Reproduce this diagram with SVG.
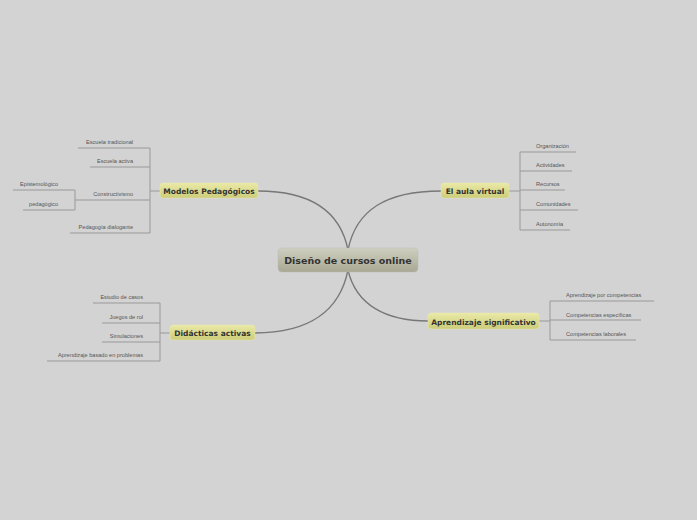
<svg xmlns="http://www.w3.org/2000/svg" width="697" height="520" viewBox="0 0 697 520">
<defs>
<linearGradient id="gc" x1="0" y1="0" x2="0" y2="1"><stop offset="0" stop-color="#cfcfc0"/><stop offset="1" stop-color="#a8a894"/></linearGradient>
<linearGradient id="gm" x1="0" y1="0" x2="0" y2="1"><stop offset="0" stop-color="#eaeaa8"/><stop offset="1" stop-color="#cccc7a"/></linearGradient>
</defs>
<style>
.leaf{font-family:"Liberation Sans",Arial,sans-serif;font-size:5.6px;fill:#555}
.mt{font-family:"DejaVu Sans",sans-serif;font-size:7.5px;font-weight:bold;fill:#333;text-anchor:middle}
.ln{stroke:#999;stroke-width:1;fill:none}
.cv{stroke:#777;stroke-width:1.3;fill:none}
.mb{fill:url(#gm);stroke:#e8e8b0;stroke-width:0.5}
</style>
<rect width="697" height="520" fill="#d3d3d3"/>
<g id="connectors">
<path class="cv" d="M348,250 C340,210 310,191 258,191"/>
<path class="cv" d="M348,250 C356,210 386,191 441,191"/>
<path class="cv" d="M348,270 C340,310 310,333 255,333"/>
<path class="cv" d="M348,270 C356,305 386,321 428,321"/>
<path class="ln" d="M150,148V233M160,191H150M78,148H150M90,167H150M85,200H150M70,233H150M75,190V210M85,200H75M13,190H75M23,210H75"/>
<path class="ln" d="M520,152V230M509,191H520M520,152H576M520,171H572M520,190H565M520,210H578M520,230H570"/>
<path class="ln" d="M550,301V340M539,321H550M550,301H654M550,320H641M550,340H636"/>
<path class="ln" d="M160,303V361M170,333H160M93,303H160M102,323H160M102,342H160M47,361H160"/>
</g>
<g id="center"><rect x="278" y="248" width="140" height="24" rx="4" fill="url(#gc)" stroke="#bbb" stroke-width="0.5"/><text x="348" y="264" font-family="DejaVu Sans,sans-serif" font-size="9.5" font-weight="bold" fill="#333" text-anchor="middle">Diseño de cursos online</text></g>
<g id="modelos"><rect class="mb" x="160" y="183" width="98" height="15" rx="3"/><text class="mt" x="209" y="194">Modelos Pedagógicos</text></g>
<g id="aula"><rect class="mb" x="441" y="183" width="68" height="15" rx="3"/><text class="mt" x="475" y="194">El aula virtual</text></g>
<g id="aprendizaje"><rect class="mb" x="428" y="313" width="111" height="16" rx="3"/><text class="mt" x="483.5" y="324.5">Aprendizaje significativo</text></g>
<g id="didacticas"><rect class="mb" x="170" y="325" width="85" height="15" rx="3"/><text class="mt" x="212.5" y="336">Didácticas activas</text></g>
<g id="leaves-left" text-anchor="end">
<text class="leaf" x="133" y="144" text-anchor="end">Escuela tradicional</text>
<text class="leaf" x="133" y="163" text-anchor="end">Escuela activa</text>
<text class="leaf" x="133" y="196" text-anchor="end">Constructivismo</text>
<text class="leaf" x="133" y="229" text-anchor="end">Pedagogía dialogante</text>
<text class="leaf" x="58" y="186" text-anchor="end">Epistemológico</text>
<text class="leaf" x="58" y="206" text-anchor="end">pedagógico</text>
<text class="leaf" x="143" y="299" text-anchor="end">Estudio de casos</text>
<text class="leaf" x="143" y="319" text-anchor="end">Juegos de rol</text>
<text class="leaf" x="143" y="338" text-anchor="end">Simulaciones</text>
<text class="leaf" x="143" y="357" text-anchor="end">Aprendizaje basado en problemas</text>
</g>
<g id="leaves-right">
<text class="leaf" x="536" y="148">Organización</text>
<text class="leaf" x="536" y="167">Actividades</text>
<text class="leaf" x="536" y="186">Recursos</text>
<text class="leaf" x="536" y="206">Comunidades</text>
<text class="leaf" x="536" y="226">Autonomía</text>
<text class="leaf" x="566" y="297">Aprendizaje por competencias</text>
<text class="leaf" x="566" y="317">Competencias específicas</text>
<text class="leaf" x="566" y="336">Competencias laborales</text>
</g>
</svg>
